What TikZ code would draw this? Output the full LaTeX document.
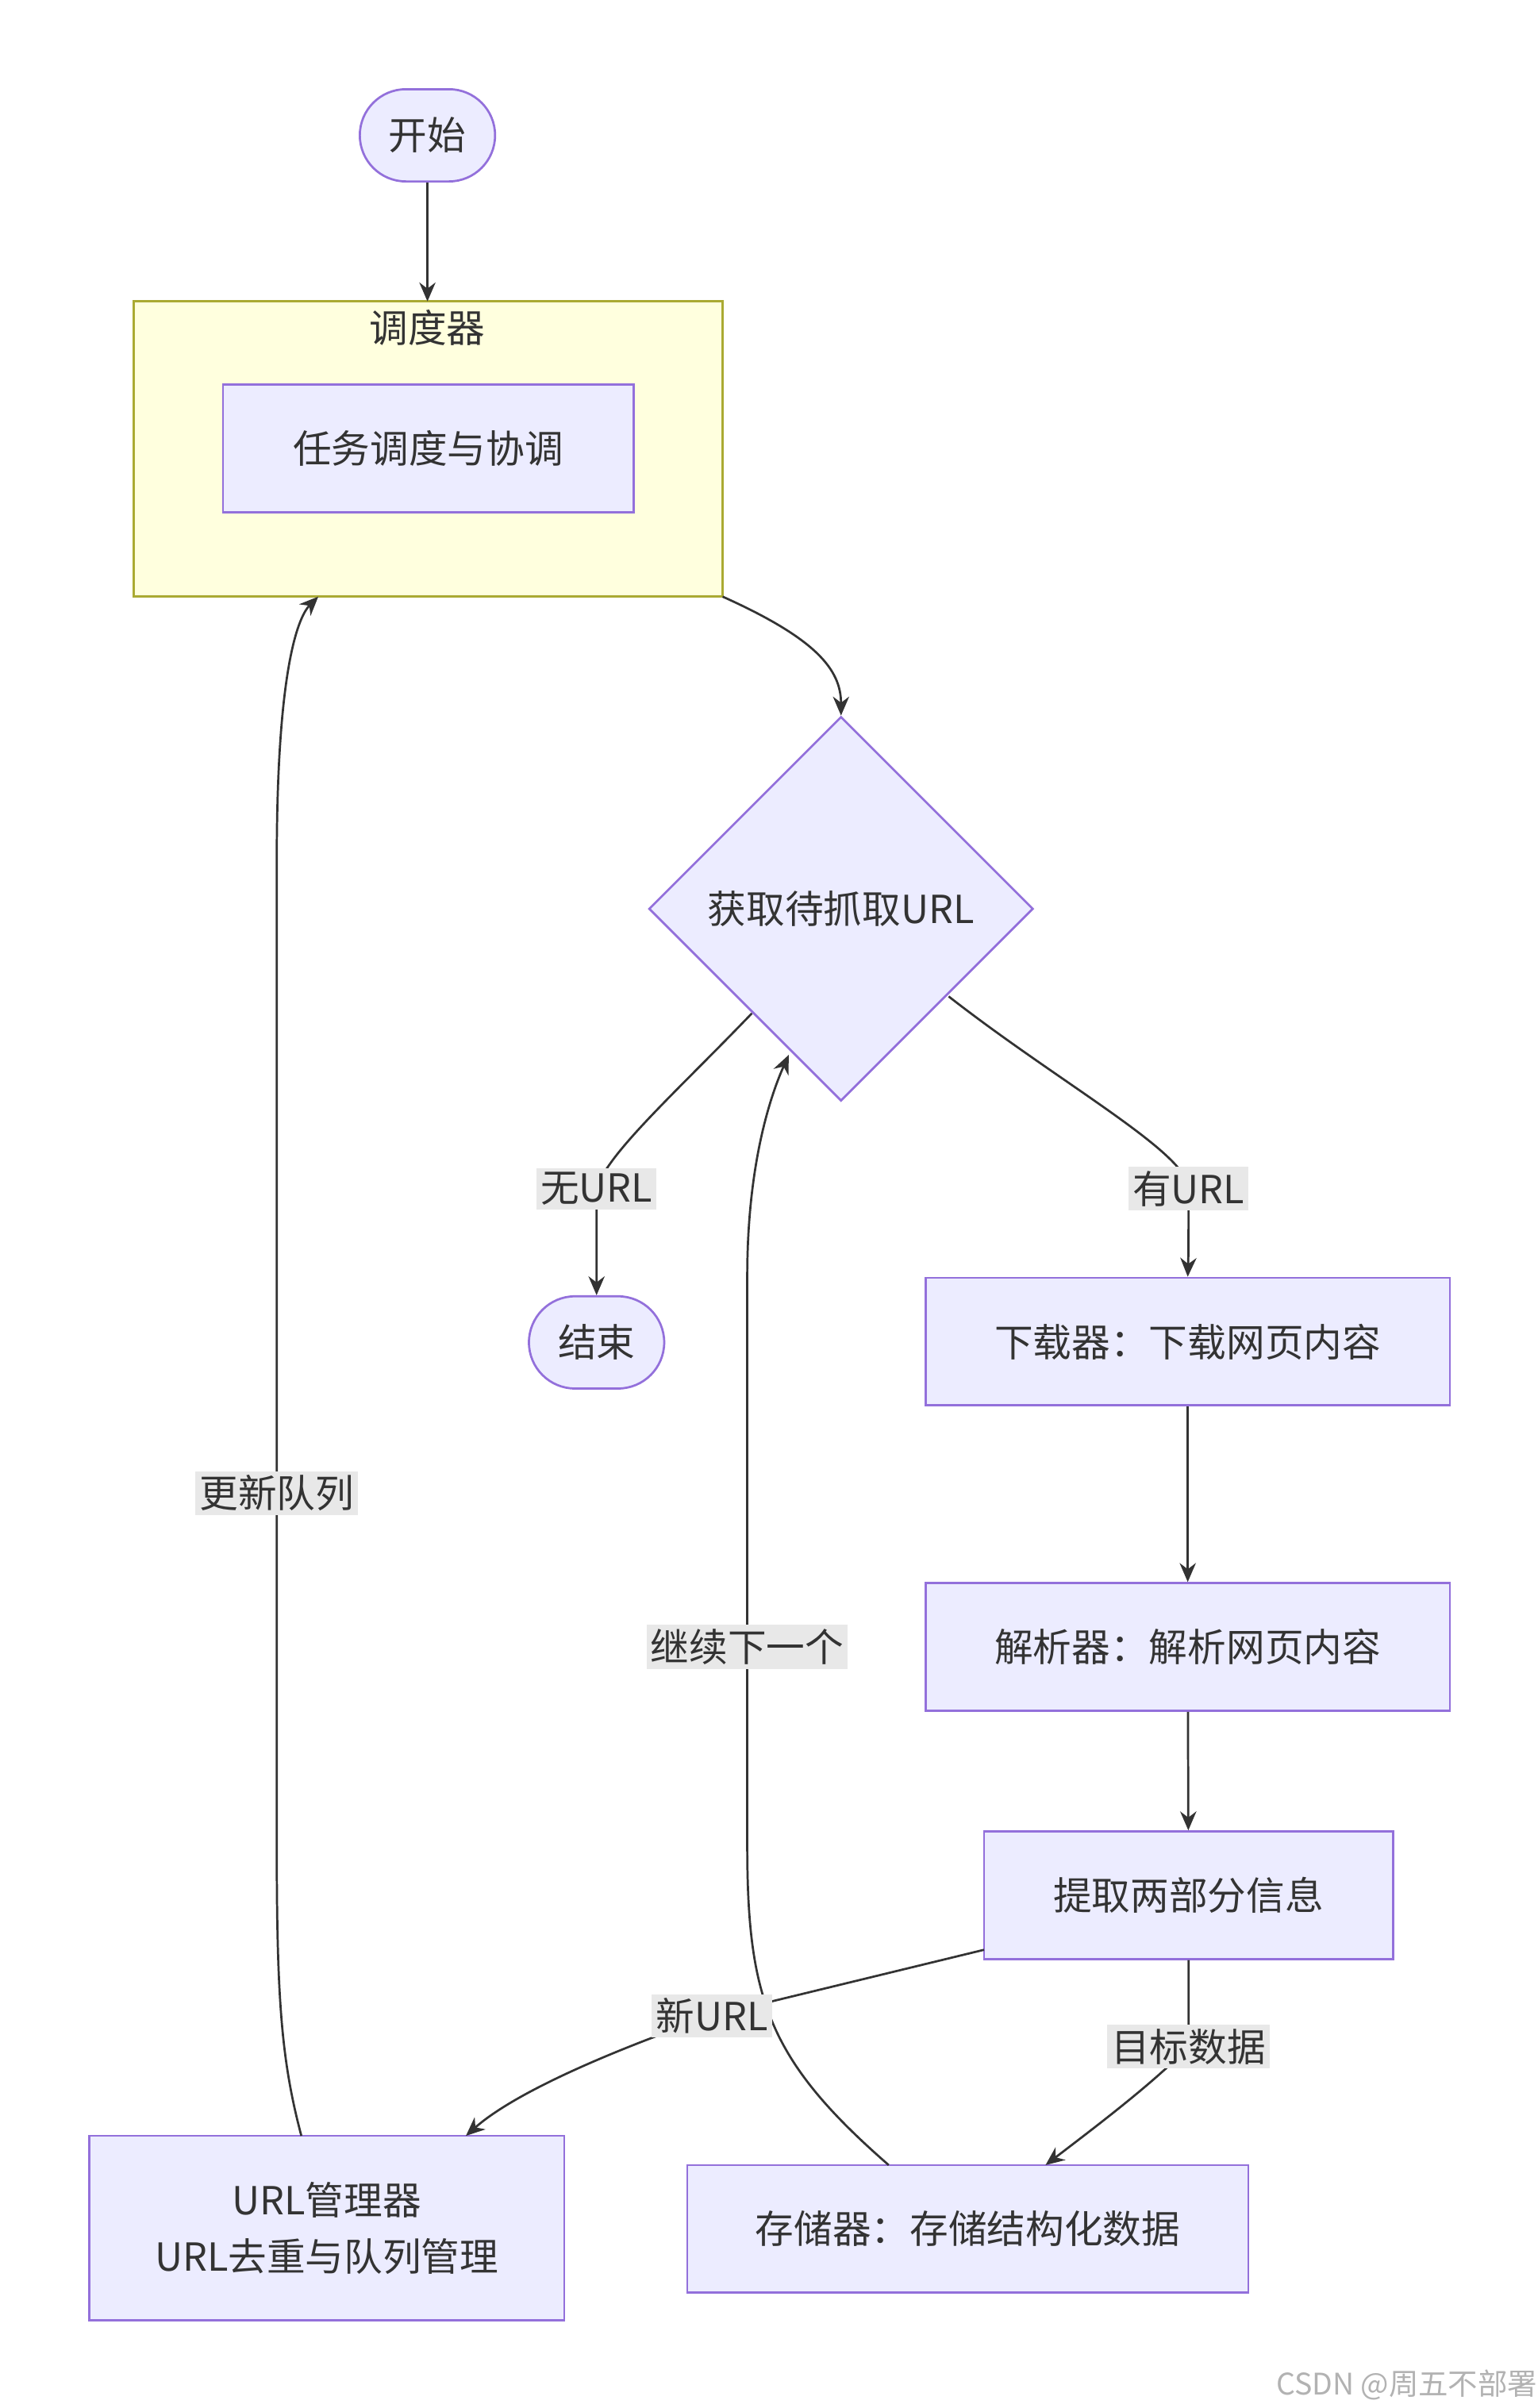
\documentclass[tikz,border=0pt]{standalone}
\usepackage{fontspec}
\setmainfont{Noto Sans CJK SC}
\usetikzlibrary{shapes.geometric,arrows.meta}
\definecolor{nfill}{HTML}{ECECFF}
\definecolor{nline}{HTML}{9370DB}
\definecolor{cfill}{HTML}{FFFFDE}
\definecolor{cline}{HTML}{AAAA33}
\definecolor{txt}{HTML}{333333}
\definecolor{lbl}{HTML}{E8E8E8}
\begin{document}
\begin{tikzpicture}[x=0.02cm,y=-0.02cm,
  every node/.style={text=txt,font=\fontsize{14.3}{17}\selectfont},
  box/.style={draw=nline,fill=nfill,line width=0.8pt,minimum height=1.66cm,align=center,inner sep=0},
  term/.style={draw=nline,fill=nfill,line width=0.8pt,rounded corners=0.6cm,minimum width=1.76cm,minimum height=1.2cm,inner sep=0},
  el/.style={fill=lbl,inner sep=1.5pt},
  arr/.style={draw=txt,line width=0.8pt,-{Stealth[length=7pt,width=6pt]}}]
\useasboundingbox (0,0) rectangle (1000,1566);
\fill[white] (0,0) rectangle (1000,1566);
\node[term] (start) at (278,88) {开始};
\draw[cline,fill=cfill,line width=0.8pt] (87,196) rectangle (470,388);
\coordinate (ctop) at (278,196);
\coordinate (cbr) at (470,388);
\coordinate (cbot) at (207,388);
\node (clbl) at (278,213) {调度器};
\node[box,minimum width=5.34cm] (task) at (278.5,291.5) {任务调度与协调};
\node[diamond,draw=nline,fill=nfill,line width=0.8pt,minimum width=5cm,minimum height=5cm,inner sep=0] (dec) at (547,591) {获取待抓取URL};
\node[term] (end) at (388,873) {结束};
\node[box,minimum width=6.82cm] (dl) at (772.5,872.5) {下载器：下载网页内容};
\node[box,minimum width=6.82cm] (ps) at (772.5,1071) {解析器：解析网页内容};
\node[box,minimum width=5.32cm] (ex) at (773,1232.5) {提取两部分信息};
\node[box,minimum width=6.18cm,minimum height=2.4cm,font=\fontsize{14.3}{21}\selectfont] (um) at (212.5,1449) {URL管理器\\URL去重与队列管理};
\node[box,minimum width=7.3cm] (st) at (629.5,1449.5) {存储器：存储结构化数据};

\coordinate (l1) at (388,773);
\coordinate (l2) at (773,773);
\coordinate (l3) at (180,971);
\coordinate (l4) at (486,1071);
\coordinate (l5) at (463,1311);
\coordinate (l6) at (773,1331);

\draw[arr] (start) -- (ctop);
\draw[arr] (cbr) .. controls (530,415) and (547,435) .. (dec.north);
\draw[arr] (489,659) .. controls (440,710) and (395,750) .. (l1) .. controls (388,800) and (388,820) .. (end.north);
\draw[arr] (617,648) .. controls (690,705) and (773,750) .. (l2) .. controls (773,800) and (773,815) .. (dl.north);
\draw[arr] (dl) -- (ps);
\draw[arr] (ps) -- (ex);
\draw[arr] (640,1268) -- (l5) .. controls (380,1340) and (330,1365) .. (303,1389);
\draw[arr] (ex.south) .. controls (773,1310) and (773,1320) .. (l6) .. controls (750,1355) and (710,1385) .. (680,1408);
\draw[arr] (578,1408) .. controls (500,1340) and (486,1300) .. (486,1200) -- (486,830) .. controls (486,760) and (500,715) .. (513,686);
\draw[arr] (196,1389) .. controls (183,1340) and (180,1300) .. (180,1200) -- (180,560) .. controls (180,430) and (195,400) .. (cbot);
\node[el] at (l1) {无URL};
\node[el] at (l2) {有URL};
\node[el] at (l3) {更新队列};
\node[el] at (l4) {继续下一个};
\node[el] at (l5) {新URL};
\node[el] at (l6) {目标数据};
\node[text=gray!60,font=\fontsize{11}{13}\selectfont] (wm) at (915,1551) {CSDN @周五不部署};
\end{tikzpicture}
\end{document}
